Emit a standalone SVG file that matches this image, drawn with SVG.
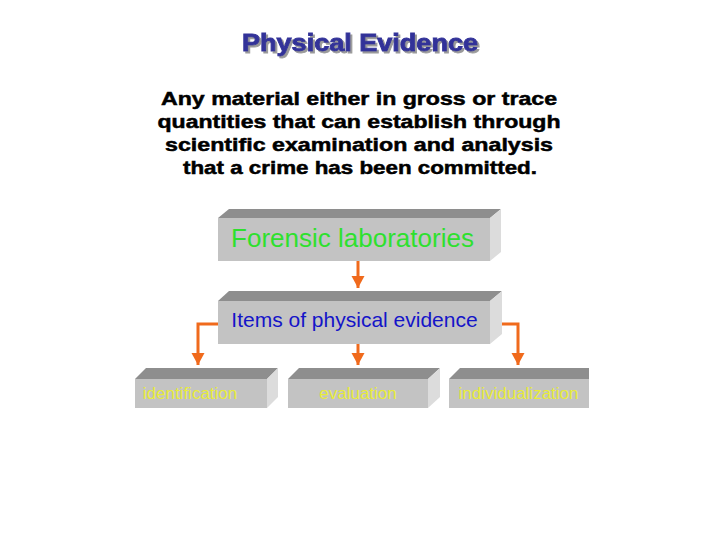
<svg xmlns="http://www.w3.org/2000/svg" width="720" height="540" viewBox="0 0 720 540">
<defs>
<style>
.front{fill:#c3c3c3}
.top{fill:#8e8e8e}
.side{fill:#dcdcdc}
.conn{fill:none;stroke:#f06a1c;stroke-width:3}
.title{font-family:"Liberation Sans",Arial,sans-serif;font-weight:bold;font-size:24px;text-anchor:middle}
.body{font-family:"Liberation Sans",Arial,sans-serif;font-weight:bold;font-size:18.5px;fill:#000;stroke:#000;stroke-width:0.5;text-anchor:middle}
.lbl{font-family:"Liberation Sans",Arial,sans-serif;text-anchor:middle}
.small{font-size:17px;fill:#e8ec3a}
</style>
<filter id="shadow" x="-5%" y="-20%" width="115%" height="150%">
<feDropShadow dx="2" dy="2" stdDeviation="0.4" flood-color="#9a9a9a" flood-opacity="1"/>
</filter>
<marker id="ah" markerUnits="userSpaceOnUse" markerWidth="14" markerHeight="14" refX="12" refY="6.5" orient="auto">
<path d="M0,0 L12,6.5 L0,13 z" fill="#f06a1c"/>
</marker>
</defs>
<rect width="720" height="540" fill="#fff"/>
<g id="title">
<text class="title" x="360" y="51" fill="#333399" stroke="#333399" stroke-width="0.9" filter="url(#shadow)" textLength="236" lengthAdjust="spacingAndGlyphs">Physical Evidence</text>
</g>
<g id="definition">
<text class="body" x="359" y="105" textLength="396" lengthAdjust="spacingAndGlyphs">Any material either in gross or trace</text>
<text class="body" x="359" y="128" textLength="403" lengthAdjust="spacingAndGlyphs">quantities that can establish through</text>
<text class="body" x="359" y="151" textLength="388" lengthAdjust="spacingAndGlyphs">scientific examination and analysis</text>
<text class="body" x="360" y="174" textLength="354" lengthAdjust="spacingAndGlyphs">that a crime has been committed.</text>
</g>
<g id="connectors">
<line class="conn" x1="358" y1="261" x2="358" y2="288" marker-end="url(#ah)"/>
<path class="conn" d="M218,324 H198 V365" marker-end="url(#ah)"/>
<line class="conn" x1="358" y1="344" x2="358" y2="365" marker-end="url(#ah)"/>
<path class="conn" d="M499,324 H518 V365" marker-end="url(#ah)"/>
</g>
<g id="node-forensic">
<polygon class="top" points="218,218 229,209 501,209 490,218"/>
<polygon class="side" points="490,218 501,209 501,252 490,261"/>
<rect class="front" x="218" y="218" width="272" height="43"/>
<text class="lbl" x="352.5" y="247" font-size="26" fill="#2ee02e">Forensic laboratories</text>
</g>
<g id="node-items">
<polygon class="top" points="218,301 229,291 502,291 490,301"/>
<polygon class="side" points="490,301 502,291 502,334 490,344"/>
<rect class="front" x="218" y="301" width="272" height="43"/>
<text class="lbl" x="354.5" y="327" font-size="21" fill="#1414c8">Items of physical evidence</text>
</g>
<g id="node-identification">
<polygon class="top" points="135,379 146,368 278,368 267,379"/>
<polygon class="side" points="267,379 278,368 278,397 267,408"/>
<rect class="front" x="135" y="379" width="132" height="29"/>
<text class="lbl small" x="190" y="399">identification</text>
</g>
<g id="node-evaluation">
<polygon class="top" points="288,379 299,368 440,368 428,379"/>
<polygon class="side" points="428,379 440,368 440,397 428,408"/>
<rect class="front" x="288" y="379" width="140" height="29"/>
<text class="lbl small" x="358" y="399">evaluation</text>
</g>
<g id="node-individualization">
<polygon class="top" points="449,379 460,368 589,368 589,379"/>
<rect class="front" x="449" y="379" width="140" height="29"/>
<text class="lbl small" x="518.5" y="399">individualization</text>
</g>
</svg>
